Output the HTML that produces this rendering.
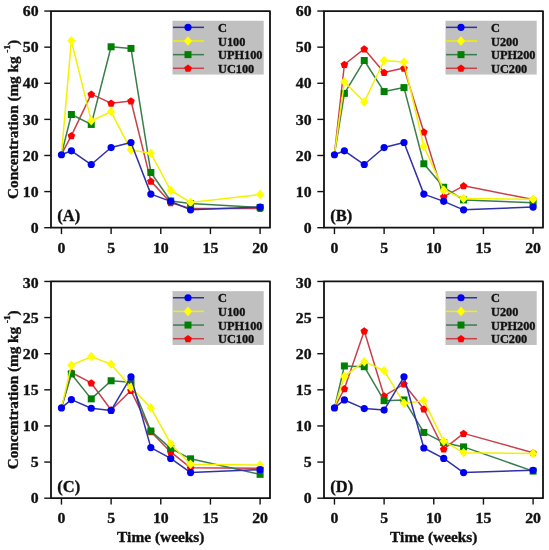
<!DOCTYPE html>
<html><head><meta charset="utf-8"><style>
html,body{margin:0;padding:0;background:#fff;}
body{width:549px;height:550px;overflow:hidden;}
svg{display:block;}
</style></head><body>
<svg width="549" height="550" viewBox="0 0 549 550">
<rect width="549" height="550" fill="#fff"/>
<polyline points="61.45,154.40 71.38,135.62 91.25,94.10 111.11,103.13 130.98,100.96 150.84,181.12 170.71,202.79 190.57,208.56 260.10,208.56" fill="none" stroke="#c8404a" stroke-width="1.5" stroke-linejoin="round"/>
<polygon points="71.38,131.92 75.19,134.69 73.73,139.16 69.03,139.16 67.58,134.69" fill="#ff0000"/>
<polygon points="91.25,90.40 95.05,93.16 93.60,97.64 88.90,97.64 87.44,93.16" fill="#ff0000"/>
<polygon points="111.11,99.43 114.92,102.19 113.46,106.66 108.76,106.66 107.31,102.19" fill="#ff0000"/>
<polygon points="130.98,97.26 134.78,100.02 133.33,104.50 128.63,104.50 127.17,100.02" fill="#ff0000"/>
<polygon points="150.84,177.42 154.65,180.18 153.19,184.66 148.49,184.66 147.04,180.18" fill="#ff0000"/>
<polygon points="170.71,199.09 174.51,201.85 173.06,206.32 168.36,206.32 166.90,201.85" fill="#ff0000"/>
<polygon points="190.57,204.86 194.38,207.63 192.92,212.10 188.22,212.10 186.77,207.63" fill="#ff0000"/>
<polygon points="260.10,204.86 263.90,207.63 262.45,212.10 257.75,212.10 256.30,207.63" fill="#ff0000"/>
<polyline points="61.45,154.40 71.38,114.50 91.25,124.43 111.11,46.80 130.98,48.42 150.84,172.45 170.71,200.98 190.57,203.51 260.10,207.48" fill="none" stroke="#3a7d4c" stroke-width="1.5" stroke-linejoin="round"/>
<rect x="67.88" y="111.00" width="7.0" height="7.0" fill="#008000"/>
<rect x="87.75" y="120.93" width="7.0" height="7.0" fill="#008000"/>
<rect x="107.61" y="43.30" width="7.0" height="7.0" fill="#008000"/>
<rect x="127.48" y="44.92" width="7.0" height="7.0" fill="#008000"/>
<rect x="147.34" y="168.95" width="7.0" height="7.0" fill="#008000"/>
<rect x="167.21" y="197.48" width="7.0" height="7.0" fill="#008000"/>
<rect x="187.07" y="200.01" width="7.0" height="7.0" fill="#008000"/>
<rect x="256.60" y="203.98" width="7.0" height="7.0" fill="#008000"/>
<polyline points="61.45,154.40 71.38,40.66 91.25,120.82 111.11,111.79 130.98,150.07 150.84,153.32 170.71,190.51 190.57,202.42 260.10,194.48" fill="none" stroke="#f4f000" stroke-width="1.5" stroke-linejoin="round"/>
<polygon points="71.38,35.86 75.58,40.66 71.38,45.46 67.18,40.66" fill="#ffff00"/>
<polygon points="91.25,116.02 95.45,120.82 91.25,125.62 87.05,120.82" fill="#ffff00"/>
<polygon points="111.11,106.99 115.31,111.79 111.11,116.59 106.91,111.79" fill="#ffff00"/>
<polygon points="130.98,145.27 135.18,150.07 130.98,154.87 126.78,150.07" fill="#ffff00"/>
<polygon points="150.84,148.52 155.04,153.32 150.84,158.12 146.64,153.32" fill="#ffff00"/>
<polygon points="170.71,185.71 174.91,190.51 170.71,195.31 166.51,190.51" fill="#ffff00"/>
<polygon points="190.57,197.62 194.77,202.42 190.57,207.22 186.37,202.42" fill="#ffff00"/>
<polygon points="260.10,189.68 264.30,194.48 260.10,199.28 255.90,194.48" fill="#ffff00"/>
<polyline points="61.45,154.76 71.38,150.79 91.25,164.51 111.11,147.54 130.98,142.48 150.84,194.12 170.71,201.34 190.57,209.83 260.10,207.12" fill="none" stroke="#3030a8" stroke-width="1.5" stroke-linejoin="round"/>
<circle cx="61.45" cy="154.76" r="3.6" fill="#0000f0"/>
<circle cx="71.38" cy="150.79" r="3.6" fill="#0000f0"/>
<circle cx="91.25" cy="164.51" r="3.6" fill="#0000f0"/>
<circle cx="111.11" cy="147.54" r="3.6" fill="#0000f0"/>
<circle cx="130.98" cy="142.48" r="3.6" fill="#0000f0"/>
<circle cx="150.84" cy="194.12" r="3.6" fill="#0000f0"/>
<circle cx="170.71" cy="201.34" r="3.6" fill="#0000f0"/>
<circle cx="190.57" cy="209.83" r="3.6" fill="#0000f0"/>
<circle cx="260.10" cy="207.12" r="3.6" fill="#0000f0"/>
<rect x="51" y="11.05" width="219" height="216.65" fill="none" stroke="#111" stroke-width="1.8" stroke-linejoin="round"/>
<line x1="44.3" y1="227.70" x2="51" y2="227.70" stroke="#111" stroke-width="1.4"/>
<text transform="translate(38.60,232.90) scale(1.08,1)" text-anchor="end" font-family="Liberation Serif, serif" font-weight="bold" stroke="#111" stroke-width="0.35" font-size="14.6" fill="#111">0</text>
<line x1="44.3" y1="191.59" x2="51" y2="191.59" stroke="#111" stroke-width="1.4"/>
<text transform="translate(38.60,196.79) scale(1.08,1)" text-anchor="end" font-family="Liberation Serif, serif" font-weight="bold" stroke="#111" stroke-width="0.35" font-size="14.6" fill="#111">10</text>
<line x1="44.3" y1="155.48" x2="51" y2="155.48" stroke="#111" stroke-width="1.4"/>
<text transform="translate(38.60,160.68) scale(1.08,1)" text-anchor="end" font-family="Liberation Serif, serif" font-weight="bold" stroke="#111" stroke-width="0.35" font-size="14.6" fill="#111">20</text>
<line x1="44.3" y1="119.38" x2="51" y2="119.38" stroke="#111" stroke-width="1.4"/>
<text transform="translate(38.60,124.58) scale(1.08,1)" text-anchor="end" font-family="Liberation Serif, serif" font-weight="bold" stroke="#111" stroke-width="0.35" font-size="14.6" fill="#111">30</text>
<line x1="44.3" y1="83.27" x2="51" y2="83.27" stroke="#111" stroke-width="1.4"/>
<text transform="translate(38.60,88.47) scale(1.08,1)" text-anchor="end" font-family="Liberation Serif, serif" font-weight="bold" stroke="#111" stroke-width="0.35" font-size="14.6" fill="#111">40</text>
<line x1="44.3" y1="47.16" x2="51" y2="47.16" stroke="#111" stroke-width="1.4"/>
<text transform="translate(38.60,52.36) scale(1.08,1)" text-anchor="end" font-family="Liberation Serif, serif" font-weight="bold" stroke="#111" stroke-width="0.35" font-size="14.6" fill="#111">50</text>
<line x1="44.3" y1="11.05" x2="51" y2="11.05" stroke="#111" stroke-width="1.4"/>
<text transform="translate(38.60,16.25) scale(1.08,1)" text-anchor="end" font-family="Liberation Serif, serif" font-weight="bold" stroke="#111" stroke-width="0.35" font-size="14.6" fill="#111">60</text>
<line x1="61.45" y1="227.7" x2="61.45" y2="234.1" stroke="#111" stroke-width="1.4"/>
<text transform="translate(61.45,252.80) scale(1.08,1)" text-anchor="middle" font-family="Liberation Serif, serif" font-weight="bold" stroke="#111" stroke-width="0.35" font-size="14.6" fill="#111">0</text>
<line x1="111.11" y1="227.7" x2="111.11" y2="234.1" stroke="#111" stroke-width="1.4"/>
<text transform="translate(111.11,252.80) scale(1.08,1)" text-anchor="middle" font-family="Liberation Serif, serif" font-weight="bold" stroke="#111" stroke-width="0.35" font-size="14.6" fill="#111">5</text>
<line x1="160.78" y1="227.7" x2="160.78" y2="234.1" stroke="#111" stroke-width="1.4"/>
<text transform="translate(160.78,252.80) scale(1.08,1)" text-anchor="middle" font-family="Liberation Serif, serif" font-weight="bold" stroke="#111" stroke-width="0.35" font-size="14.6" fill="#111">10</text>
<line x1="210.44" y1="227.7" x2="210.44" y2="234.1" stroke="#111" stroke-width="1.4"/>
<text transform="translate(210.44,252.80) scale(1.08,1)" text-anchor="middle" font-family="Liberation Serif, serif" font-weight="bold" stroke="#111" stroke-width="0.35" font-size="14.6" fill="#111">15</text>
<line x1="260.10" y1="227.7" x2="260.10" y2="234.1" stroke="#111" stroke-width="1.4"/>
<text transform="translate(260.10,252.80) scale(1.08,1)" text-anchor="middle" font-family="Liberation Serif, serif" font-weight="bold" stroke="#111" stroke-width="0.35" font-size="14.6" fill="#111">20</text>
<text transform="translate(57.30,221.10) scale(0.98,1)" font-family="Liberation Serif, serif" font-weight="bold" stroke="#111" stroke-width="0.35" font-size="16.8" fill="#111">(A)</text>
<rect x="172.5" y="20.75" width="91.2" height="53.8" fill="#c0c0c0"/>
<line x1="173" y1="27.35" x2="204" y2="27.35" stroke="#3030a8" stroke-width="1.5"/>
<circle cx="188.00" cy="27.35" r="3.6" fill="#0000f0"/>
<text transform="translate(218.00,31.95) scale(1.01,1)" font-family="Liberation Serif, serif" font-weight="bold" stroke="#111" stroke-width="0.35" font-size="12.2" fill="#111">C</text>
<line x1="173" y1="41.00" x2="204" y2="41.00" stroke="#f4f000" stroke-width="1.5"/>
<polygon points="188.00,36.20 192.20,41.00 188.00,45.80 183.80,41.00" fill="#ffff00"/>
<text transform="translate(218.00,45.60) scale(1.01,1)" font-family="Liberation Serif, serif" font-weight="bold" stroke="#111" stroke-width="0.35" font-size="12.2" fill="#111">U100</text>
<line x1="173" y1="54.65" x2="204" y2="54.65" stroke="#3a7d4c" stroke-width="1.5"/>
<rect x="184.50" y="51.15" width="7.0" height="7.0" fill="#008000"/>
<text transform="translate(218.00,59.25) scale(1.01,1)" font-family="Liberation Serif, serif" font-weight="bold" stroke="#111" stroke-width="0.35" font-size="12.2" fill="#111">UPH100</text>
<line x1="173" y1="68.30" x2="204" y2="68.30" stroke="#c8404a" stroke-width="1.5"/>
<polygon points="188.00,64.60 191.80,67.36 190.35,71.84 185.65,71.84 184.20,67.36" fill="#ff0000"/>
<text transform="translate(218.00,72.90) scale(1.01,1)" font-family="Liberation Serif, serif" font-weight="bold" stroke="#111" stroke-width="0.35" font-size="12.2" fill="#111">UC100</text>
<text transform="translate(18.0,119.38) rotate(-90) scale(1.04,1)" text-anchor="middle" font-family="Liberation Serif, serif" font-weight="bold" stroke="#111" stroke-width="0.35" font-size="14.6" fill="#111">Concentration (mg kg <tspan font-size="9" dy="-8">-1</tspan><tspan dy="8">)</tspan></text>
<polyline points="334.45,154.40 344.38,64.49 364.25,48.96 384.11,72.43 403.98,68.10 423.84,132.01 443.71,196.65 463.57,185.81 533.10,199.54" fill="none" stroke="#c8404a" stroke-width="1.5" stroke-linejoin="round"/>
<polygon points="344.38,60.79 348.19,63.55 346.73,68.03 342.03,68.03 340.58,63.55" fill="#ff0000"/>
<polygon points="364.25,45.26 368.05,48.03 366.60,52.50 361.90,52.50 360.44,48.03" fill="#ff0000"/>
<polygon points="384.11,68.73 387.92,71.50 386.46,75.97 381.76,75.97 380.31,71.50" fill="#ff0000"/>
<polygon points="403.98,64.40 407.78,67.17 406.33,71.64 401.63,71.64 400.17,67.17" fill="#ff0000"/>
<polygon points="423.84,128.31 427.65,131.08 426.19,135.55 421.49,135.55 420.04,131.08" fill="#ff0000"/>
<polygon points="443.71,192.95 447.51,195.71 446.06,200.18 441.36,200.18 439.90,195.71" fill="#ff0000"/>
<polygon points="463.57,182.11 467.38,184.88 465.92,189.35 461.22,189.35 459.77,184.88" fill="#ff0000"/>
<polygon points="533.10,195.84 536.90,198.60 535.45,203.07 530.75,203.07 529.30,198.60" fill="#ff0000"/>
<polyline points="334.45,154.40 344.38,93.38 364.25,60.52 384.11,91.57 403.98,87.60 423.84,163.79 443.71,187.26 463.57,199.90 533.10,202.79" fill="none" stroke="#3a7d4c" stroke-width="1.5" stroke-linejoin="round"/>
<rect x="340.88" y="89.88" width="7.0" height="7.0" fill="#008000"/>
<rect x="360.75" y="57.02" width="7.0" height="7.0" fill="#008000"/>
<rect x="380.61" y="88.07" width="7.0" height="7.0" fill="#008000"/>
<rect x="400.48" y="84.10" width="7.0" height="7.0" fill="#008000"/>
<rect x="420.34" y="160.29" width="7.0" height="7.0" fill="#008000"/>
<rect x="440.21" y="183.76" width="7.0" height="7.0" fill="#008000"/>
<rect x="460.07" y="196.40" width="7.0" height="7.0" fill="#008000"/>
<rect x="529.60" y="199.29" width="7.0" height="7.0" fill="#008000"/>
<polyline points="334.45,154.40 344.38,81.82 364.25,102.04 384.11,60.52 403.98,61.96 423.84,146.46 443.71,190.15 463.57,198.45 533.10,199.17" fill="none" stroke="#f4f000" stroke-width="1.5" stroke-linejoin="round"/>
<polygon points="344.38,77.02 348.58,81.82 344.38,86.62 340.18,81.82" fill="#ffff00"/>
<polygon points="364.25,97.24 368.45,102.04 364.25,106.84 360.05,102.04" fill="#ffff00"/>
<polygon points="384.11,55.72 388.31,60.52 384.11,65.32 379.91,60.52" fill="#ffff00"/>
<polygon points="403.98,57.16 408.18,61.96 403.98,66.76 399.78,61.96" fill="#ffff00"/>
<polygon points="423.84,141.66 428.04,146.46 423.84,151.26 419.64,146.46" fill="#ffff00"/>
<polygon points="443.71,185.35 447.91,190.15 443.71,194.95 439.51,190.15" fill="#ffff00"/>
<polygon points="463.57,193.65 467.77,198.45 463.57,203.25 459.37,198.45" fill="#ffff00"/>
<polygon points="533.10,194.37 537.30,199.17 533.10,203.97 528.90,199.17" fill="#ffff00"/>
<polyline points="334.45,154.76 344.38,150.79 364.25,164.51 384.11,147.54 403.98,142.48 423.84,194.12 443.71,201.34 463.57,209.83 533.10,207.12" fill="none" stroke="#3030a8" stroke-width="1.5" stroke-linejoin="round"/>
<circle cx="334.45" cy="154.76" r="3.6" fill="#0000f0"/>
<circle cx="344.38" cy="150.79" r="3.6" fill="#0000f0"/>
<circle cx="364.25" cy="164.51" r="3.6" fill="#0000f0"/>
<circle cx="384.11" cy="147.54" r="3.6" fill="#0000f0"/>
<circle cx="403.98" cy="142.48" r="3.6" fill="#0000f0"/>
<circle cx="423.84" cy="194.12" r="3.6" fill="#0000f0"/>
<circle cx="443.71" cy="201.34" r="3.6" fill="#0000f0"/>
<circle cx="463.57" cy="209.83" r="3.6" fill="#0000f0"/>
<circle cx="533.10" cy="207.12" r="3.6" fill="#0000f0"/>
<rect x="324" y="11.05" width="219" height="216.65" fill="none" stroke="#111" stroke-width="1.8" stroke-linejoin="round"/>
<line x1="317.3" y1="227.70" x2="324" y2="227.70" stroke="#111" stroke-width="1.4"/>
<text transform="translate(311.60,232.90) scale(1.08,1)" text-anchor="end" font-family="Liberation Serif, serif" font-weight="bold" stroke="#111" stroke-width="0.35" font-size="14.6" fill="#111">0</text>
<line x1="317.3" y1="191.59" x2="324" y2="191.59" stroke="#111" stroke-width="1.4"/>
<text transform="translate(311.60,196.79) scale(1.08,1)" text-anchor="end" font-family="Liberation Serif, serif" font-weight="bold" stroke="#111" stroke-width="0.35" font-size="14.6" fill="#111">10</text>
<line x1="317.3" y1="155.48" x2="324" y2="155.48" stroke="#111" stroke-width="1.4"/>
<text transform="translate(311.60,160.68) scale(1.08,1)" text-anchor="end" font-family="Liberation Serif, serif" font-weight="bold" stroke="#111" stroke-width="0.35" font-size="14.6" fill="#111">20</text>
<line x1="317.3" y1="119.38" x2="324" y2="119.38" stroke="#111" stroke-width="1.4"/>
<text transform="translate(311.60,124.58) scale(1.08,1)" text-anchor="end" font-family="Liberation Serif, serif" font-weight="bold" stroke="#111" stroke-width="0.35" font-size="14.6" fill="#111">30</text>
<line x1="317.3" y1="83.27" x2="324" y2="83.27" stroke="#111" stroke-width="1.4"/>
<text transform="translate(311.60,88.47) scale(1.08,1)" text-anchor="end" font-family="Liberation Serif, serif" font-weight="bold" stroke="#111" stroke-width="0.35" font-size="14.6" fill="#111">40</text>
<line x1="317.3" y1="47.16" x2="324" y2="47.16" stroke="#111" stroke-width="1.4"/>
<text transform="translate(311.60,52.36) scale(1.08,1)" text-anchor="end" font-family="Liberation Serif, serif" font-weight="bold" stroke="#111" stroke-width="0.35" font-size="14.6" fill="#111">50</text>
<line x1="317.3" y1="11.05" x2="324" y2="11.05" stroke="#111" stroke-width="1.4"/>
<text transform="translate(311.60,16.25) scale(1.08,1)" text-anchor="end" font-family="Liberation Serif, serif" font-weight="bold" stroke="#111" stroke-width="0.35" font-size="14.6" fill="#111">60</text>
<line x1="334.45" y1="227.7" x2="334.45" y2="234.1" stroke="#111" stroke-width="1.4"/>
<text transform="translate(334.45,252.80) scale(1.08,1)" text-anchor="middle" font-family="Liberation Serif, serif" font-weight="bold" stroke="#111" stroke-width="0.35" font-size="14.6" fill="#111">0</text>
<line x1="384.11" y1="227.7" x2="384.11" y2="234.1" stroke="#111" stroke-width="1.4"/>
<text transform="translate(384.11,252.80) scale(1.08,1)" text-anchor="middle" font-family="Liberation Serif, serif" font-weight="bold" stroke="#111" stroke-width="0.35" font-size="14.6" fill="#111">5</text>
<line x1="433.77" y1="227.7" x2="433.77" y2="234.1" stroke="#111" stroke-width="1.4"/>
<text transform="translate(433.77,252.80) scale(1.08,1)" text-anchor="middle" font-family="Liberation Serif, serif" font-weight="bold" stroke="#111" stroke-width="0.35" font-size="14.6" fill="#111">10</text>
<line x1="483.44" y1="227.7" x2="483.44" y2="234.1" stroke="#111" stroke-width="1.4"/>
<text transform="translate(483.44,252.80) scale(1.08,1)" text-anchor="middle" font-family="Liberation Serif, serif" font-weight="bold" stroke="#111" stroke-width="0.35" font-size="14.6" fill="#111">15</text>
<line x1="533.10" y1="227.7" x2="533.10" y2="234.1" stroke="#111" stroke-width="1.4"/>
<text transform="translate(533.10,252.80) scale(1.08,1)" text-anchor="middle" font-family="Liberation Serif, serif" font-weight="bold" stroke="#111" stroke-width="0.35" font-size="14.6" fill="#111">20</text>
<text transform="translate(330.30,221.10) scale(0.98,1)" font-family="Liberation Serif, serif" font-weight="bold" stroke="#111" stroke-width="0.35" font-size="16.8" fill="#111">(B)</text>
<rect x="445.5" y="20.75" width="91.2" height="53.8" fill="#c0c0c0"/>
<line x1="446" y1="27.35" x2="477" y2="27.35" stroke="#3030a8" stroke-width="1.5"/>
<circle cx="461.00" cy="27.35" r="3.6" fill="#0000f0"/>
<text transform="translate(491.00,31.95) scale(1.01,1)" font-family="Liberation Serif, serif" font-weight="bold" stroke="#111" stroke-width="0.35" font-size="12.2" fill="#111">C</text>
<line x1="446" y1="41.00" x2="477" y2="41.00" stroke="#f4f000" stroke-width="1.5"/>
<polygon points="461.00,36.20 465.20,41.00 461.00,45.80 456.80,41.00" fill="#ffff00"/>
<text transform="translate(491.00,45.60) scale(1.01,1)" font-family="Liberation Serif, serif" font-weight="bold" stroke="#111" stroke-width="0.35" font-size="12.2" fill="#111">U200</text>
<line x1="446" y1="54.65" x2="477" y2="54.65" stroke="#3a7d4c" stroke-width="1.5"/>
<rect x="457.50" y="51.15" width="7.0" height="7.0" fill="#008000"/>
<text transform="translate(491.00,59.25) scale(1.01,1)" font-family="Liberation Serif, serif" font-weight="bold" stroke="#111" stroke-width="0.35" font-size="12.2" fill="#111">UPH200</text>
<line x1="446" y1="68.30" x2="477" y2="68.30" stroke="#c8404a" stroke-width="1.5"/>
<polygon points="461.00,64.60 464.80,67.36 463.35,71.84 458.65,71.84 457.20,67.36" fill="#ff0000"/>
<text transform="translate(491.00,72.90) scale(1.01,1)" font-family="Liberation Serif, serif" font-weight="bold" stroke="#111" stroke-width="0.35" font-size="12.2" fill="#111">UC200</text>
<polyline points="61.45,407.89 71.38,372.49 91.25,382.96 111.11,410.06 130.98,390.55 150.84,431.73 170.71,451.96 190.57,467.85 260.10,468.22" fill="none" stroke="#c8404a" stroke-width="1.5" stroke-linejoin="round"/>
<polygon points="71.38,368.79 75.19,371.55 73.73,376.02 69.03,376.02 67.58,371.55" fill="#ff0000"/>
<polygon points="91.25,379.26 95.05,382.03 93.60,386.50 88.90,386.50 87.44,382.03" fill="#ff0000"/>
<polygon points="111.11,406.36 114.92,409.12 113.46,413.59 108.76,413.59 107.31,409.12" fill="#ff0000"/>
<polygon points="130.98,386.85 134.78,389.61 133.33,394.08 128.63,394.08 127.17,389.61" fill="#ff0000"/>
<polygon points="150.84,428.03 154.65,430.79 153.19,435.27 148.49,435.27 147.04,430.79" fill="#ff0000"/>
<polygon points="170.71,448.26 174.51,451.02 173.06,455.50 168.36,455.50 166.90,451.02" fill="#ff0000"/>
<polygon points="190.57,464.15 194.38,466.92 192.92,471.39 188.22,471.39 186.77,466.92" fill="#ff0000"/>
<polygon points="260.10,464.52 263.90,467.28 262.45,471.75 257.75,471.75 256.30,467.28" fill="#ff0000"/>
<polyline points="61.45,407.89 71.38,373.93 91.25,398.86 111.11,380.79 130.98,382.24 150.84,431.01 170.71,448.35 190.57,458.82 260.10,474.36" fill="none" stroke="#3a7d4c" stroke-width="1.5" stroke-linejoin="round"/>
<rect x="67.88" y="370.43" width="7.0" height="7.0" fill="#008000"/>
<rect x="87.75" y="395.36" width="7.0" height="7.0" fill="#008000"/>
<rect x="107.61" y="377.29" width="7.0" height="7.0" fill="#008000"/>
<rect x="127.48" y="378.74" width="7.0" height="7.0" fill="#008000"/>
<rect x="147.34" y="427.51" width="7.0" height="7.0" fill="#008000"/>
<rect x="167.21" y="444.85" width="7.0" height="7.0" fill="#008000"/>
<rect x="187.07" y="455.32" width="7.0" height="7.0" fill="#008000"/>
<rect x="256.60" y="470.86" width="7.0" height="7.0" fill="#008000"/>
<polyline points="61.45,407.89 71.38,365.26 91.25,356.59 111.11,364.18 130.98,387.30 150.84,407.89 170.71,443.65 190.57,464.24 260.10,464.96" fill="none" stroke="#f4f000" stroke-width="1.5" stroke-linejoin="round"/>
<polygon points="71.38,360.46 75.58,365.26 71.38,370.06 67.18,365.26" fill="#ffff00"/>
<polygon points="91.25,351.79 95.45,356.59 91.25,361.39 87.05,356.59" fill="#ffff00"/>
<polygon points="111.11,359.38 115.31,364.18 111.11,368.98 106.91,364.18" fill="#ffff00"/>
<polygon points="130.98,382.50 135.18,387.30 130.98,392.10 126.78,387.30" fill="#ffff00"/>
<polygon points="150.84,403.09 155.04,407.89 150.84,412.69 146.64,407.89" fill="#ffff00"/>
<polygon points="170.71,438.85 174.91,443.65 170.71,448.45 166.51,443.65" fill="#ffff00"/>
<polygon points="190.57,459.44 194.77,464.24 190.57,469.04 186.37,464.24" fill="#ffff00"/>
<polygon points="260.10,460.16 264.30,464.96 260.10,469.76 255.90,464.96" fill="#ffff00"/>
<polyline points="61.45,407.89 71.38,399.58 91.25,408.25 111.11,410.42 130.98,376.82 150.84,447.62 170.71,458.46 190.57,472.55 260.10,469.66" fill="none" stroke="#3030a8" stroke-width="1.5" stroke-linejoin="round"/>
<circle cx="61.45" cy="407.89" r="3.6" fill="#0000f0"/>
<circle cx="71.38" cy="399.58" r="3.6" fill="#0000f0"/>
<circle cx="91.25" cy="408.25" r="3.6" fill="#0000f0"/>
<circle cx="111.11" cy="410.42" r="3.6" fill="#0000f0"/>
<circle cx="130.98" cy="376.82" r="3.6" fill="#0000f0"/>
<circle cx="150.84" cy="447.62" r="3.6" fill="#0000f0"/>
<circle cx="170.71" cy="458.46" r="3.6" fill="#0000f0"/>
<circle cx="190.57" cy="472.55" r="3.6" fill="#0000f0"/>
<circle cx="260.10" cy="469.66" r="3.6" fill="#0000f0"/>
<rect x="51" y="281.45" width="219" height="216.75" fill="none" stroke="#111" stroke-width="1.8" stroke-linejoin="round"/>
<line x1="44.3" y1="498.20" x2="51" y2="498.20" stroke="#111" stroke-width="1.4"/>
<text transform="translate(38.60,503.40) scale(1.08,1)" text-anchor="end" font-family="Liberation Serif, serif" font-weight="bold" stroke="#111" stroke-width="0.35" font-size="14.6" fill="#111">0</text>
<line x1="44.3" y1="462.07" x2="51" y2="462.07" stroke="#111" stroke-width="1.4"/>
<text transform="translate(38.60,467.27) scale(1.08,1)" text-anchor="end" font-family="Liberation Serif, serif" font-weight="bold" stroke="#111" stroke-width="0.35" font-size="14.6" fill="#111">5</text>
<line x1="44.3" y1="425.95" x2="51" y2="425.95" stroke="#111" stroke-width="1.4"/>
<text transform="translate(38.60,431.15) scale(1.08,1)" text-anchor="end" font-family="Liberation Serif, serif" font-weight="bold" stroke="#111" stroke-width="0.35" font-size="14.6" fill="#111">10</text>
<line x1="44.3" y1="389.82" x2="51" y2="389.82" stroke="#111" stroke-width="1.4"/>
<text transform="translate(38.60,395.02) scale(1.08,1)" text-anchor="end" font-family="Liberation Serif, serif" font-weight="bold" stroke="#111" stroke-width="0.35" font-size="14.6" fill="#111">15</text>
<line x1="44.3" y1="353.70" x2="51" y2="353.70" stroke="#111" stroke-width="1.4"/>
<text transform="translate(38.60,358.90) scale(1.08,1)" text-anchor="end" font-family="Liberation Serif, serif" font-weight="bold" stroke="#111" stroke-width="0.35" font-size="14.6" fill="#111">20</text>
<line x1="44.3" y1="317.57" x2="51" y2="317.57" stroke="#111" stroke-width="1.4"/>
<text transform="translate(38.60,322.77) scale(1.08,1)" text-anchor="end" font-family="Liberation Serif, serif" font-weight="bold" stroke="#111" stroke-width="0.35" font-size="14.6" fill="#111">25</text>
<line x1="44.3" y1="281.45" x2="51" y2="281.45" stroke="#111" stroke-width="1.4"/>
<text transform="translate(38.60,287.85) scale(1.08,1)" text-anchor="end" font-family="Liberation Serif, serif" font-weight="bold" stroke="#111" stroke-width="0.35" font-size="14.6" fill="#111">30</text>
<line x1="61.45" y1="498.2" x2="61.45" y2="504.59999999999997" stroke="#111" stroke-width="1.4"/>
<text transform="translate(61.45,523.30) scale(1.08,1)" text-anchor="middle" font-family="Liberation Serif, serif" font-weight="bold" stroke="#111" stroke-width="0.35" font-size="14.6" fill="#111">0</text>
<line x1="111.11" y1="498.2" x2="111.11" y2="504.59999999999997" stroke="#111" stroke-width="1.4"/>
<text transform="translate(111.11,523.30) scale(1.08,1)" text-anchor="middle" font-family="Liberation Serif, serif" font-weight="bold" stroke="#111" stroke-width="0.35" font-size="14.6" fill="#111">5</text>
<line x1="160.78" y1="498.2" x2="160.78" y2="504.59999999999997" stroke="#111" stroke-width="1.4"/>
<text transform="translate(160.78,523.30) scale(1.08,1)" text-anchor="middle" font-family="Liberation Serif, serif" font-weight="bold" stroke="#111" stroke-width="0.35" font-size="14.6" fill="#111">10</text>
<line x1="210.44" y1="498.2" x2="210.44" y2="504.59999999999997" stroke="#111" stroke-width="1.4"/>
<text transform="translate(210.44,523.30) scale(1.08,1)" text-anchor="middle" font-family="Liberation Serif, serif" font-weight="bold" stroke="#111" stroke-width="0.35" font-size="14.6" fill="#111">15</text>
<line x1="260.10" y1="498.2" x2="260.10" y2="504.59999999999997" stroke="#111" stroke-width="1.4"/>
<text transform="translate(260.10,523.30) scale(1.08,1)" text-anchor="middle" font-family="Liberation Serif, serif" font-weight="bold" stroke="#111" stroke-width="0.35" font-size="14.6" fill="#111">20</text>
<text transform="translate(57.30,491.60) scale(0.98,1)" font-family="Liberation Serif, serif" font-weight="bold" stroke="#111" stroke-width="0.35" font-size="16.8" fill="#111">(C)</text>
<rect x="172.5" y="291.15" width="91.2" height="53.8" fill="#c0c0c0"/>
<line x1="173" y1="297.75" x2="204" y2="297.75" stroke="#3030a8" stroke-width="1.5"/>
<circle cx="188.00" cy="297.75" r="3.6" fill="#0000f0"/>
<text transform="translate(218.00,302.35) scale(1.01,1)" font-family="Liberation Serif, serif" font-weight="bold" stroke="#111" stroke-width="0.35" font-size="12.2" fill="#111">C</text>
<line x1="173" y1="311.40" x2="204" y2="311.40" stroke="#f4f000" stroke-width="1.5"/>
<polygon points="188.00,306.60 192.20,311.40 188.00,316.20 183.80,311.40" fill="#ffff00"/>
<text transform="translate(218.00,316.00) scale(1.01,1)" font-family="Liberation Serif, serif" font-weight="bold" stroke="#111" stroke-width="0.35" font-size="12.2" fill="#111">U100</text>
<line x1="173" y1="325.05" x2="204" y2="325.05" stroke="#3a7d4c" stroke-width="1.5"/>
<rect x="184.50" y="321.55" width="7.0" height="7.0" fill="#008000"/>
<text transform="translate(218.00,329.65) scale(1.01,1)" font-family="Liberation Serif, serif" font-weight="bold" stroke="#111" stroke-width="0.35" font-size="12.2" fill="#111">UPH100</text>
<line x1="173" y1="338.70" x2="204" y2="338.70" stroke="#c8404a" stroke-width="1.5"/>
<polygon points="188.00,335.00 191.80,337.76 190.35,342.24 185.65,342.24 184.20,337.76" fill="#ff0000"/>
<text transform="translate(218.00,343.30) scale(1.01,1)" font-family="Liberation Serif, serif" font-weight="bold" stroke="#111" stroke-width="0.35" font-size="12.2" fill="#111">UC100</text>
<text transform="translate(18.0,389.82) rotate(-90) scale(1.04,1)" text-anchor="middle" font-family="Liberation Serif, serif" font-weight="bold" stroke="#111" stroke-width="0.35" font-size="14.6" fill="#111">Concentration (mg kg <tspan font-size="9" dy="-8">-1</tspan><tspan dy="8">)</tspan></text>
<text transform="translate(160.80,541.70) scale(1.055,1)" text-anchor="middle" font-family="Liberation Serif, serif" font-weight="bold" stroke="#111" stroke-width="0.35" font-size="14.6" fill="#111">Time (weeks)</text>
<polyline points="334.45,407.89 344.38,388.74 364.25,330.94 384.11,395.97 403.98,384.04 423.84,408.97 443.71,449.07 463.57,433.39 533.10,452.68" fill="none" stroke="#c8404a" stroke-width="1.5" stroke-linejoin="round"/>
<polygon points="344.38,385.04 348.19,387.81 346.73,392.28 342.03,392.28 340.58,387.81" fill="#ff0000"/>
<polygon points="364.25,327.24 368.05,330.01 366.60,334.48 361.90,334.48 360.44,330.01" fill="#ff0000"/>
<polygon points="384.11,392.27 387.92,395.03 386.46,399.50 381.76,399.50 380.31,395.03" fill="#ff0000"/>
<polygon points="403.98,380.34 407.78,383.11 406.33,387.58 401.63,387.58 400.17,383.11" fill="#ff0000"/>
<polygon points="423.84,405.27 427.65,408.04 426.19,412.51 421.49,412.51 420.04,408.04" fill="#ff0000"/>
<polygon points="443.71,445.37 447.51,448.13 446.06,452.61 441.36,452.61 439.90,448.13" fill="#ff0000"/>
<polygon points="463.57,429.69 467.38,432.46 465.92,436.93 461.22,436.93 459.77,432.46" fill="#ff0000"/>
<polygon points="533.10,448.98 536.90,451.75 535.45,456.22 530.75,456.22 529.30,451.75" fill="#ff0000"/>
<polyline points="334.45,407.89 344.38,365.98 364.25,366.70 384.11,400.66 403.98,399.94 423.84,432.45 443.71,442.57 463.57,446.90 533.10,471.11" fill="none" stroke="#3a7d4c" stroke-width="1.5" stroke-linejoin="round"/>
<rect x="340.88" y="362.48" width="7.0" height="7.0" fill="#008000"/>
<rect x="360.75" y="363.20" width="7.0" height="7.0" fill="#008000"/>
<rect x="380.61" y="397.16" width="7.0" height="7.0" fill="#008000"/>
<rect x="400.48" y="396.44" width="7.0" height="7.0" fill="#008000"/>
<rect x="420.34" y="428.95" width="7.0" height="7.0" fill="#008000"/>
<rect x="440.21" y="439.07" width="7.0" height="7.0" fill="#008000"/>
<rect x="460.07" y="443.40" width="7.0" height="7.0" fill="#008000"/>
<rect x="529.60" y="467.61" width="7.0" height="7.0" fill="#008000"/>
<polyline points="334.45,407.89 344.38,376.46 364.25,361.65 384.11,370.68 403.98,403.19 423.84,400.66 443.71,441.12 463.57,452.68 533.10,453.40" fill="none" stroke="#f4f000" stroke-width="1.5" stroke-linejoin="round"/>
<polygon points="344.38,371.66 348.58,376.46 344.38,381.26 340.18,376.46" fill="#ffff00"/>
<polygon points="364.25,356.85 368.45,361.65 364.25,366.45 360.05,361.65" fill="#ffff00"/>
<polygon points="384.11,365.88 388.31,370.68 384.11,375.48 379.91,370.68" fill="#ffff00"/>
<polygon points="403.98,398.39 408.18,403.19 403.98,407.99 399.78,403.19" fill="#ffff00"/>
<polygon points="423.84,395.86 428.04,400.66 423.84,405.46 419.64,400.66" fill="#ffff00"/>
<polygon points="443.71,436.32 447.91,441.12 443.71,445.92 439.51,441.12" fill="#ffff00"/>
<polygon points="463.57,447.88 467.77,452.68 463.57,457.48 459.37,452.68" fill="#ffff00"/>
<polygon points="533.10,448.60 537.30,453.40 533.10,458.20 528.90,453.40" fill="#ffff00"/>
<polyline points="334.45,407.89 344.38,399.94 364.25,408.61 384.11,410.06 403.98,376.82 423.84,447.99 443.71,458.46 463.57,472.55 533.10,470.24" fill="none" stroke="#3030a8" stroke-width="1.5" stroke-linejoin="round"/>
<circle cx="334.45" cy="407.89" r="3.6" fill="#0000f0"/>
<circle cx="344.38" cy="399.94" r="3.6" fill="#0000f0"/>
<circle cx="364.25" cy="408.61" r="3.6" fill="#0000f0"/>
<circle cx="384.11" cy="410.06" r="3.6" fill="#0000f0"/>
<circle cx="403.98" cy="376.82" r="3.6" fill="#0000f0"/>
<circle cx="423.84" cy="447.99" r="3.6" fill="#0000f0"/>
<circle cx="443.71" cy="458.46" r="3.6" fill="#0000f0"/>
<circle cx="463.57" cy="472.55" r="3.6" fill="#0000f0"/>
<circle cx="533.10" cy="470.24" r="3.6" fill="#0000f0"/>
<rect x="324" y="281.45" width="219" height="216.75" fill="none" stroke="#111" stroke-width="1.8" stroke-linejoin="round"/>
<line x1="317.3" y1="498.20" x2="324" y2="498.20" stroke="#111" stroke-width="1.4"/>
<text transform="translate(311.60,503.40) scale(1.08,1)" text-anchor="end" font-family="Liberation Serif, serif" font-weight="bold" stroke="#111" stroke-width="0.35" font-size="14.6" fill="#111">0</text>
<line x1="317.3" y1="462.07" x2="324" y2="462.07" stroke="#111" stroke-width="1.4"/>
<text transform="translate(311.60,467.27) scale(1.08,1)" text-anchor="end" font-family="Liberation Serif, serif" font-weight="bold" stroke="#111" stroke-width="0.35" font-size="14.6" fill="#111">5</text>
<line x1="317.3" y1="425.95" x2="324" y2="425.95" stroke="#111" stroke-width="1.4"/>
<text transform="translate(311.60,431.15) scale(1.08,1)" text-anchor="end" font-family="Liberation Serif, serif" font-weight="bold" stroke="#111" stroke-width="0.35" font-size="14.6" fill="#111">10</text>
<line x1="317.3" y1="389.82" x2="324" y2="389.82" stroke="#111" stroke-width="1.4"/>
<text transform="translate(311.60,395.02) scale(1.08,1)" text-anchor="end" font-family="Liberation Serif, serif" font-weight="bold" stroke="#111" stroke-width="0.35" font-size="14.6" fill="#111">15</text>
<line x1="317.3" y1="353.70" x2="324" y2="353.70" stroke="#111" stroke-width="1.4"/>
<text transform="translate(311.60,358.90) scale(1.08,1)" text-anchor="end" font-family="Liberation Serif, serif" font-weight="bold" stroke="#111" stroke-width="0.35" font-size="14.6" fill="#111">20</text>
<line x1="317.3" y1="317.57" x2="324" y2="317.57" stroke="#111" stroke-width="1.4"/>
<text transform="translate(311.60,322.77) scale(1.08,1)" text-anchor="end" font-family="Liberation Serif, serif" font-weight="bold" stroke="#111" stroke-width="0.35" font-size="14.6" fill="#111">25</text>
<line x1="317.3" y1="281.45" x2="324" y2="281.45" stroke="#111" stroke-width="1.4"/>
<text transform="translate(311.60,287.85) scale(1.08,1)" text-anchor="end" font-family="Liberation Serif, serif" font-weight="bold" stroke="#111" stroke-width="0.35" font-size="14.6" fill="#111">30</text>
<line x1="334.45" y1="498.2" x2="334.45" y2="504.59999999999997" stroke="#111" stroke-width="1.4"/>
<text transform="translate(334.45,523.30) scale(1.08,1)" text-anchor="middle" font-family="Liberation Serif, serif" font-weight="bold" stroke="#111" stroke-width="0.35" font-size="14.6" fill="#111">0</text>
<line x1="384.11" y1="498.2" x2="384.11" y2="504.59999999999997" stroke="#111" stroke-width="1.4"/>
<text transform="translate(384.11,523.30) scale(1.08,1)" text-anchor="middle" font-family="Liberation Serif, serif" font-weight="bold" stroke="#111" stroke-width="0.35" font-size="14.6" fill="#111">5</text>
<line x1="433.77" y1="498.2" x2="433.77" y2="504.59999999999997" stroke="#111" stroke-width="1.4"/>
<text transform="translate(433.77,523.30) scale(1.08,1)" text-anchor="middle" font-family="Liberation Serif, serif" font-weight="bold" stroke="#111" stroke-width="0.35" font-size="14.6" fill="#111">10</text>
<line x1="483.44" y1="498.2" x2="483.44" y2="504.59999999999997" stroke="#111" stroke-width="1.4"/>
<text transform="translate(483.44,523.30) scale(1.08,1)" text-anchor="middle" font-family="Liberation Serif, serif" font-weight="bold" stroke="#111" stroke-width="0.35" font-size="14.6" fill="#111">15</text>
<line x1="533.10" y1="498.2" x2="533.10" y2="504.59999999999997" stroke="#111" stroke-width="1.4"/>
<text transform="translate(533.10,523.30) scale(1.08,1)" text-anchor="middle" font-family="Liberation Serif, serif" font-weight="bold" stroke="#111" stroke-width="0.35" font-size="14.6" fill="#111">20</text>
<text transform="translate(330.30,491.60) scale(0.98,1)" font-family="Liberation Serif, serif" font-weight="bold" stroke="#111" stroke-width="0.35" font-size="16.8" fill="#111">(D)</text>
<rect x="445.5" y="291.15" width="91.2" height="53.8" fill="#c0c0c0"/>
<line x1="446" y1="297.75" x2="477" y2="297.75" stroke="#3030a8" stroke-width="1.5"/>
<circle cx="461.00" cy="297.75" r="3.6" fill="#0000f0"/>
<text transform="translate(491.00,302.35) scale(1.01,1)" font-family="Liberation Serif, serif" font-weight="bold" stroke="#111" stroke-width="0.35" font-size="12.2" fill="#111">C</text>
<line x1="446" y1="311.40" x2="477" y2="311.40" stroke="#f4f000" stroke-width="1.5"/>
<polygon points="461.00,306.60 465.20,311.40 461.00,316.20 456.80,311.40" fill="#ffff00"/>
<text transform="translate(491.00,316.00) scale(1.01,1)" font-family="Liberation Serif, serif" font-weight="bold" stroke="#111" stroke-width="0.35" font-size="12.2" fill="#111">U200</text>
<line x1="446" y1="325.05" x2="477" y2="325.05" stroke="#3a7d4c" stroke-width="1.5"/>
<rect x="457.50" y="321.55" width="7.0" height="7.0" fill="#008000"/>
<text transform="translate(491.00,329.65) scale(1.01,1)" font-family="Liberation Serif, serif" font-weight="bold" stroke="#111" stroke-width="0.35" font-size="12.2" fill="#111">UPH200</text>
<line x1="446" y1="338.70" x2="477" y2="338.70" stroke="#c8404a" stroke-width="1.5"/>
<polygon points="461.00,335.00 464.80,337.76 463.35,342.24 458.65,342.24 457.20,337.76" fill="#ff0000"/>
<text transform="translate(491.00,343.30) scale(1.01,1)" font-family="Liberation Serif, serif" font-weight="bold" stroke="#111" stroke-width="0.35" font-size="12.2" fill="#111">UC200</text>
<text transform="translate(433.80,541.70) scale(1.055,1)" text-anchor="middle" font-family="Liberation Serif, serif" font-weight="bold" stroke="#111" stroke-width="0.35" font-size="14.6" fill="#111">Time (weeks)</text>
</svg>
</body></html>
